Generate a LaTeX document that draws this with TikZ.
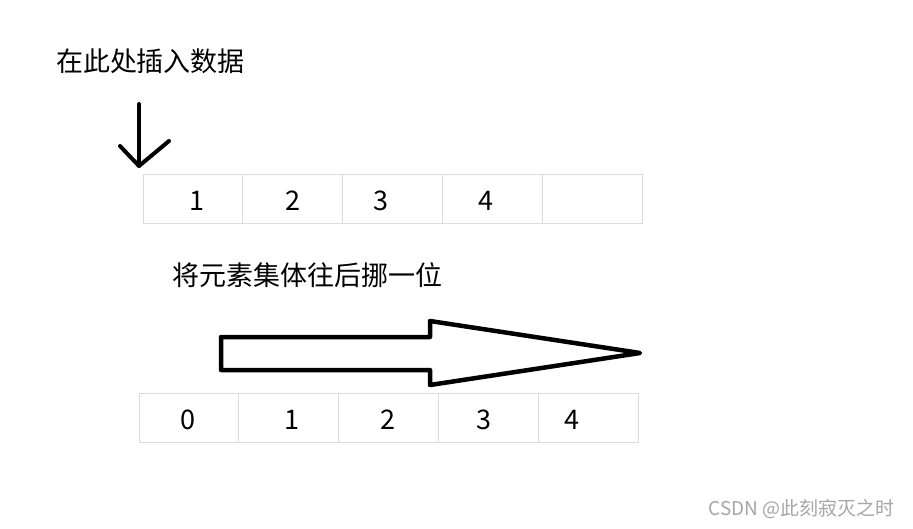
\documentclass[tikz,border=0pt]{standalone}
\usepackage{fontspec}
\setmainfont{Noto Sans CJK SC}
\newfontfamily\cjk{Noto Sans CJK SC}
\begin{document}
\begin{tikzpicture}[x=1pt,y=-1pt,
  cell/.style={draw=gray!28,line width=1pt,minimum width=99.8pt,minimum height=49pt,inner sep=0pt,outer sep=0pt},
  num/.style={font=\fontsize{27}{30}\selectfont\cjk,inner sep=0pt},
  title/.style={font=\fontsize{27}{30}\selectfont\cjk,inner sep=0pt},
  thick arrow/.style={line width=4pt},
]
\useasboundingbox[fill=white] (0,0) rectangle (913,528);

% titles
\node[title] (t1) at (150.5,61) {在此处插入数据};
\node[title] (t2) at (307.5,275) {将元素集体往后挪一位};

% down arrow
\coordinate (dtop) at (139,104);
\coordinate (dtip) at (139,166);
\coordinate (dl) at (120,146);
\coordinate (dr) at (169,141);
\draw[thick arrow,line cap=round,line join=round] (dtop) -- (dtip);
\draw[thick arrow,line cap=round,line join=round] (dl) -- (dtip) -- (dr);

% top array
\foreach \i in {0,...,4}{
  \node[cell] (a\i) at ({143+49.9+99.8*\i},198.5) {};
}
\node[num] (n1) at (197,201) {1};
\node[num] (n2) at (293,201) {2};
\node[num] (n3) at (381,201) {3};
\node[num] (n4) at (486,201) {4};

% big arrow
\draw[line width=4.5pt,line join=round]
  (221,337) -- (430,337) -- (430,321) -- (640,353) -- (430,385) -- (430,370) -- (221,370) -- cycle;

% bottom array
\foreach \i in {0,...,4}{
  \node[cell] (b\i) at ({139+49.9+99.8*\i},417.5) {};
}
\node[num] (m0) at (188,420) {0};
\node[num] (m1) at (292,420) {1};
\node[num] (m2) at (388,420) {2};
\node[num] (m3) at (484,420) {3};
\node[num] (m4) at (572,420) {4};

% watermark
\node[font=\fontsize{19}{21}\selectfont\cjk,text=gray!70,inner sep=0pt] (wm) at (801.5,509) {CSDN @此刻寂灭之时};
\end{tikzpicture}
\end{document}
